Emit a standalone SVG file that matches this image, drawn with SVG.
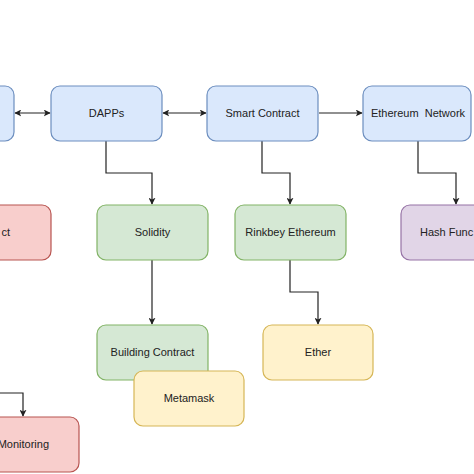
<svg xmlns="http://www.w3.org/2000/svg" width="474" height="474" viewBox="0 0 474 474">
<style>
.n rect{stroke-width:1.2}
.blue{fill:#dae8fc;stroke:#6c8ebf}
.green{fill:#d5e8d4;stroke:#82b366}
.pink{fill:#f8cecc;stroke:#b85450}
.yellow{fill:#fff2cc;stroke:#d6b656}
.purple{fill:#e1d5e7;stroke:#9673a6}
text{font-family:"Liberation Sans",Arial,sans-serif;font-size:11px;fill:#222;dominant-baseline:central}
.c{text-anchor:middle}
#edges path{fill:none;stroke:#222;stroke-width:1.2}
</style>
<defs>
<marker id="ah" viewBox="0 0 10 10" refX="9" refY="5" markerWidth="7" markerHeight="7" orient="auto-start-reverse" markerUnits="userSpaceOnUse">
<path d="M0,0 L10,5 L0,10 L2.5,5 Z" fill="#222"/>
</marker>
</defs>
<rect width="474" height="474" fill="#fff"/>
<g id="edges">
<path d="M15,113 H50" marker-start="url(#ah)" marker-end="url(#ah)"/>
<path d="M163,113 H206" marker-start="url(#ah)" marker-end="url(#ah)"/>
<path d="M319,113 H362" marker-end="url(#ah)"/>
<path d="M106,141 V173 H152 V204" marker-end="url(#ah)"/>
<path d="M262,141 V173 H290 V204" marker-end="url(#ah)"/>
<path d="M418,141 V173 H456 V204" marker-end="url(#ah)"/>
<path d="M152,260 V324" marker-end="url(#ah)"/>
<path d="M290,260 V292 H318 V324" marker-end="url(#ah)"/>
<path d="M0,393 H23 V416" marker-end="url(#ah)"/>
</g>
<g id="node-left" class="n"><rect class="blue" x="-97" y="86" width="111" height="55" rx="9"/></g>
<g id="node-dapps" class="n"><rect class="blue" x="51" y="86" width="111" height="55" rx="9"/><text class="c" x="106.5" y="112.5">DAPPs</text></g>
<g id="node-smart" class="n"><rect class="blue" x="207" y="86" width="111" height="55" rx="9"/><text class="c" x="262.5" y="112.5">Smart Contract</text></g>
<g id="node-eth" class="n"><rect class="blue" x="363" y="86" width="108" height="55" rx="9"/><text class="c" x="418" y="112.5" xml:space="preserve">Ethereum  Network</text></g>
<g id="node-ct" class="n"><rect class="pink" x="-60" y="205" width="111" height="55" rx="9"/><text x="10" y="231.5" text-anchor="end">ct</text></g>
<g id="node-solidity" class="n"><rect class="green" x="97" y="205" width="111" height="55" rx="9"/><text class="c" x="152.5" y="231.5">Solidity</text></g>
<g id="node-rinkbey" class="n"><rect class="green" x="235" y="205" width="111" height="55" rx="9"/><text class="c" x="290.5" y="231.5">Rinkbey Ethereum</text></g>
<g id="node-hash" class="n"><rect class="purple" x="401" y="205" width="111" height="55" rx="9"/><text x="420" y="231.5">Hash Func</text></g>
<g id="node-building" class="n"><rect class="green" x="97" y="325" width="111" height="55" rx="9"/><text class="c" x="152.5" y="351.5">Building Contract</text></g>
<g id="node-metamask" class="n"><rect class="yellow" x="134" y="371" width="110" height="55" rx="9"/><text class="c" x="189" y="397.5">Metamask</text></g>
<g id="node-ether" class="n"><rect class="yellow" x="263" y="325" width="110" height="55" rx="9"/><text class="c" x="318" y="351.5">Ether</text></g>
<g id="node-monitoring" class="n"><rect class="pink" x="-32" y="417" width="111" height="55" rx="9"/><text x="49" y="443.5" text-anchor="end">Monitoring</text></g>
</svg>
